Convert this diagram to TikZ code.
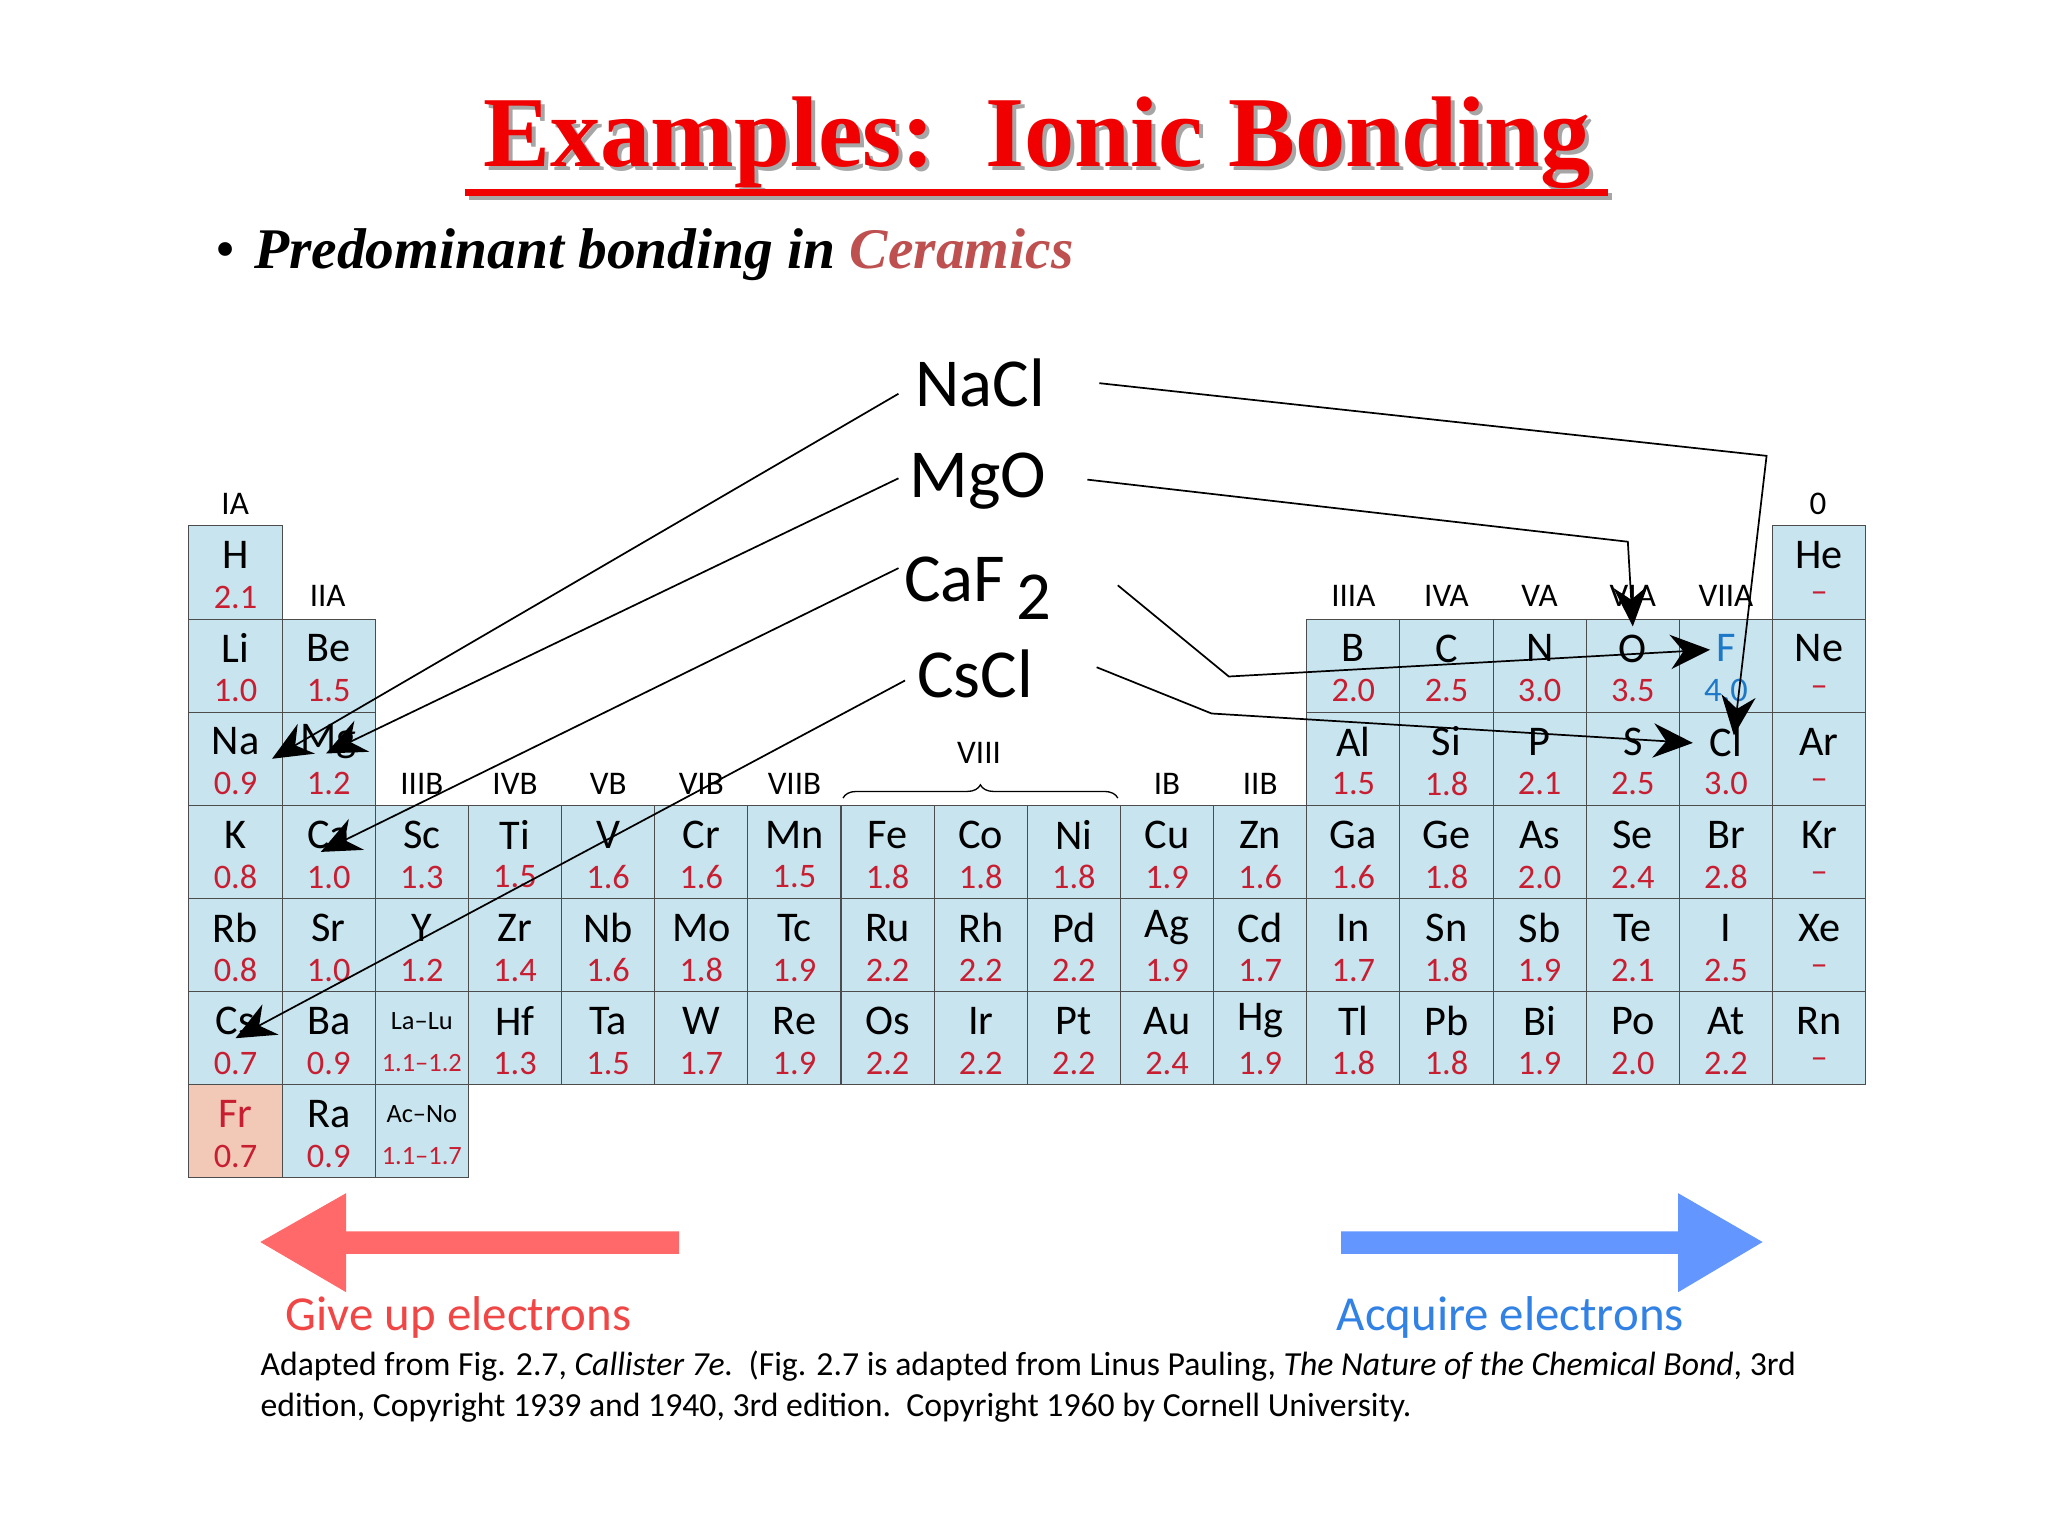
\documentclass[tikz,border=0pt]{standalone}
\usepackage{fontspec}
\setmainfont{Carlito}
\newfontfamily\titlefont{Liberation Serif}
\usetikzlibrary{arrows.meta,decorations.pathreplacing}
\definecolor{cellfill}{RGB}{200,228,238}
\definecolor{valred}{RGB}{200,30,50}
\definecolor{fblue}{RGB}{30,120,200}
\definecolor{frfill}{RGB}{242,200,182}
\definecolor{titlered}{RGB}{240,0,0}
\definecolor{ceram}{RGB}{190,80,80}
\definecolor{givered}{RGB}{255,105,105}
\definecolor{acqblue}{RGB}{100,150,255}
\definecolor{givetext}{RGB}{240,70,70}
\definecolor{acqtext}{RGB}{50,130,230}
\tikzset{
 cellbox/.style={draw=black!70,line width=0.8pt,fill=cellfill,minimum width=70.5pt,minimum height=70.5pt,inner sep=0pt},
 symtxt/.style={font=\fontsize{32}{32}\selectfont,inner sep=0pt},
 valtxt/.style={font=\fontsize{26}{26}\selectfont,text=valred,inner sep=0pt},
 grp/.style={font=\fontsize{25}{25}\selectfont,inner sep=0pt},
 cmpd/.style={font=\fontsize{52}{52}\selectfont,inner sep=0pt},
 conn/.style={line width=1.3pt,-{Stealth[length=30pt,width=26pt]}},
}
\begin{document}
\begin{tikzpicture}[x=1pt,y=-1pt]
\useasboundingbox[fill=white] (0,0) rectangle (1550,1162);
% title
\node[text=black!35,font=\titlefont\bfseries\fontsize{76}{76}\selectfont,inner sep=0pt] at (788,111) {Examples:\ \ Ionic Bonding};
\node[text=titlered,font=\titlefont\bfseries\fontsize{76}{76}\selectfont,inner sep=0pt] (title) at (785,108) {Examples:\ \ Ionic Bonding};
\fill[black!35] (355,146) rectangle (1220,151);
\fill[titlered] (352,143) rectangle (1217,148);
\node[anchor=west,inner sep=0pt] (sub) at (163,193) {\titlefont\fontsize{43.5}{43.5}\selectfont•\hspace{14pt}\bfseries\itshape Predominant bonding in \textcolor{ceram}{Ceramics}};
% cells
\foreach \c/\r/\s/\v in {1/1/H/2.1,18/1/He/–,
 1/2/Li/1.0,2/2/Be/1.5,13/2/B/2.0,14/2/C/2.5,15/2/N/3.0,16/2/O/3.5,17/2/F/4.0,18/2/Ne/–,
 1/3/Na/0.9,2/3/Mg/1.2,13/3/Al/1.5,14/3/Si/1.8,15/3/P/2.1,16/3/S/2.5,17/3/Cl/3.0,18/3/Ar/–,
 1/4/K/0.8,2/4/Ca/1.0,3/4/Sc/1.3,4/4/Ti/1.5,5/4/V/1.6,6/4/Cr/1.6,7/4/Mn/1.5,8/4/Fe/1.8,9/4/Co/1.8,10/4/Ni/1.8,11/4/Cu/1.9,12/4/Zn/1.6,13/4/Ga/1.6,14/4/Ge/1.8,15/4/As/2.0,16/4/Se/2.4,17/4/Br/2.8,18/4/Kr/–,
 1/5/Rb/0.8,2/5/Sr/1.0,3/5/Y/1.2,4/5/Zr/1.4,5/5/Nb/1.6,6/5/Mo/1.8,7/5/Tc/1.9,8/5/Ru/2.2,9/5/Rh/2.2,10/5/Pd/2.2,11/5/Ag/1.9,12/5/Cd/1.7,13/5/In/1.7,14/5/Sn/1.8,15/5/Sb/1.9,16/5/Te/2.1,17/5/I/2.5,18/5/Xe/–,
 1/6/Cs/0.7,2/6/Ba/0.9,4/6/Hf/1.3,5/6/Ta/1.5,6/6/W/1.7,7/6/Re/1.9,8/6/Os/2.2,9/6/Ir/2.2,10/6/Pt/2.2,11/6/Au/2.4,12/6/Hg/1.9,13/6/Tl/1.8,14/6/Pb/1.8,15/6/Bi/1.9,16/6/Po/2.0,17/6/At/2.2,18/6/Rn/–,
 2/7/Ra/0.9}{
 \node[cellbox] (\s) at ({143+70.5*(\c-1)+35.25},{398+70.5*(\r-1)+35.25}) {};
 \node[symtxt] (\s-s) at ([yshift=13pt]\s.center) {\s};
 \node[valtxt] (\s-v) at ([yshift=-19pt]\s.center) {\v};
}
\node[cellbox,fill=frfill] (Fr) at ({143+35.25},{398+70.5*6+35.25}) {};
\node[symtxt,text=valred] (Fr-s) at ([yshift=13pt]Fr.center) {Fr};
\node[valtxt] (Fr-v) at ([yshift=-19pt]Fr.center) {0.7};
\node[fill=cellfill,minimum width=60pt,minimum height=62pt] at (F.center) {};
\node[symtxt,text=fblue] at ([yshift=13pt]F.center) {F};
\node[valtxt,text=fblue] at ([yshift=-19pt]F.center) {4.0};
\node[cellbox] (LaLu) at ({143+70.5*2+35.25},{398+70.5*5+35.25}) {};
\node[inner sep=0pt,font=\fontsize{20}{20}\selectfont] at ([yshift=13pt]LaLu.center) {La–Lu};
\node[inner sep=0pt,font=\fontsize{20}{20}\selectfont,text=valred] at ([yshift=-19pt]LaLu.center) {1.1–1.2};
\node[cellbox] (AcNo) at ({143+70.5*2+35.25},{398+70.5*6+35.25}) {};
\node[inner sep=0pt,font=\fontsize{20}{20}\selectfont] at ([yshift=13pt]AcNo.center) {Ac–No};
\node[inner sep=0pt,font=\fontsize{20}{20}\selectfont,text=valred] at ([yshift=-19pt]AcNo.center) {1.1–1.7};
% group labels
\node[grp] (gIA) at (178,381) {IA};
\node[grp] (gIIA) at (248,451) {IIA};
\node[grp] (g0) at (1376,381) {0};
\foreach \c/\t in {3/IIIB,4/IVB,5/VB,6/VIB,7/VIIB,11/IB,12/IIB}{
 \node[grp] at ({143+70.5*(\c-1)+35.25},593) {\t};}
\foreach \c/\t in {13/IIIA,14/IVA,15/VA,16/VIA,17/VIIA}{
 \node[grp] at ({143+70.5*(\c-1)+35.25},451) {\t};}
\node[grp] (gVIII) at (741,570) {VIII};
\draw[line width=1pt,decorate,decoration={brace,amplitude=10pt}] (638,604) -- (846,604);
% compounds
\node[cmpd] (NaCl) at (742,290) {NaCl};
\node[cmpd] (MgO) at (740,364) {MgO};
\node[cmpd] (CaF2) at (740,445) {CaF\,\raisebox{-14pt}{2}};
\node[cmpd] (CsCl) at (738,510) {CsCl};
% connectors
\draw[conn] (680,298) -- ([xshift=-8pt]Na.east);
\draw[conn] (832,290) -- (1337,345) -- ([xshift=6pt,yshift=-18pt]Cl.north);
\draw[conn] (680,362) -- ([xshift=-2pt,yshift=4pt]Mg.center);
\draw[conn] (823,363) -- (1232,410) -- ([yshift=-6pt]O.north);
\draw[conn] (680,430) -- ([xshift=-6pt]Ca.center);
\draw[conn] (846,443) -- (930,512) -- ([xshift=-12pt,yshift=12pt]F.center);
\draw[conn] (685,515) -- (Cs.center);
\draw[conn] (830,505) -- (917,540) -- ([xshift=-25pt,yshift=12pt]Cl.center);
% big arrows
\fill[givered] (514,932) -- (262,932) -- (262,903) -- (197,940) -- (262,978) -- (262,949) -- (514,949) -- cycle;
\fill[acqblue] (1015,932) -- (1270,932) -- (1270,903) -- (1334,940) -- (1270,978) -- (1270,949) -- (1015,949) -- cycle;
\node[text=givetext,font=\fontsize{37}{37}\selectfont,inner sep=0pt] (give) at (347,997) {Give up electrons};
\node[text=acqtext,font=\fontsize{37}{37}\selectfont,inner sep=0pt] (acq) at (1143,997) {Acquire electrons};
\node[anchor=north west,align=left,font=\fontsize{25.5}{31}\selectfont,inner sep=0pt] (cap) at (197,1022) {Adapted from Fig. 2.7, \textit{Callister 7e.}\ \ (Fig. 2.7 is adapted from Linus Pauling, \textit{The Nature of the Chemical Bond}, 3rd\\edition, Copyright 1939 and 1940, 3rd edition.\ \ Copyright 1960 by Cornell University.};
\end{tikzpicture}
\end{document}
